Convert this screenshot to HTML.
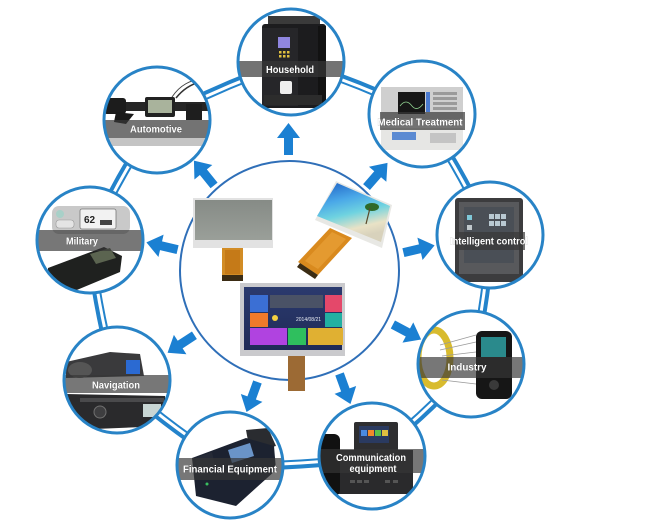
<!DOCTYPE html>
<html><head><meta charset="utf-8">
<style>
html,body{margin:0;padding:0;background:#fff;}
svg{display:block;}
.lbl{font-family:"Liberation Sans",Arial,sans-serif;font-size:10.5px;font-weight:bold;fill:#fff;stroke:rgba(0,0,0,0.3);stroke-width:0.5px;paint-order:stroke;text-anchor:middle;}
</style></head>
<body>
<svg width="650" height="529" viewBox="0 0 650 529" xmlns="http://www.w3.org/2000/svg">
<defs>
<clipPath id="cH"><circle cx="291" cy="62" r="52"/></clipPath>
<clipPath id="cMed"><circle cx="422" cy="114" r="52"/></clipPath>
<clipPath id="cInt"><circle cx="490" cy="235" r="52"/></clipPath>
<clipPath id="cInd"><circle cx="471" cy="364" r="52"/></clipPath>
<clipPath id="cCom"><circle cx="372" cy="456" r="52"/></clipPath>
<clipPath id="cFin"><circle cx="230" cy="465" r="52"/></clipPath>
<clipPath id="cNav"><circle cx="117" cy="380" r="52"/></clipPath>
<clipPath id="cMil"><circle cx="90" cy="240" r="52"/></clipPath>
<clipPath id="cAut"><circle cx="157" cy="120" r="52"/></clipPath>
<linearGradient id="sky" x1="0" y1="0" x2="0.3" y2="1">
<stop offset="0" stop-color="#1d5fc4"/><stop offset="0.35" stop-color="#4aa8e8"/><stop offset="0.6" stop-color="#6fd3e0"/><stop offset="0.85" stop-color="#e9e2c6"/><stop offset="1" stop-color="#d8d2bc"/>
</linearGradient>
<linearGradient id="lcd" x1="0" y1="0" x2="0" y2="1">
<stop offset="0" stop-color="#868b86"/><stop offset="1" stop-color="#9a9f99"/>
</linearGradient>
<linearGradient id="navy" x1="0" y1="0" x2="0" y2="1">
<stop offset="0" stop-color="#2b3a6e"/><stop offset="1" stop-color="#1f2b57"/>
</linearGradient>
</defs>

<rect width="650" height="529" fill="#fff"/>

<g fill="none" stroke="#2383cb" stroke-linecap="butt">
<path d="M157,120 Q221.9,85.4 291,62" stroke-width="4" transform="translate(-1.05,-2.81)"/>
<path d="M157,120 Q221.9,85.4 291,62" stroke-width="2" transform="translate(1.05,2.81)"/>
<path d="M291,62 Q358.6,82.4 422,114" stroke-width="4" transform="translate(1.04,-2.81)"/>
<path d="M291,62 Q358.6,82.4 422,114" stroke-width="2" transform="translate(-1.04,2.81)"/>
<path d="M422,114 Q461.2,171.6 490,235" stroke-width="4" transform="translate(2.61,-1.47)"/>
<path d="M422,114 Q461.2,171.6 490,235" stroke-width="2" transform="translate(-2.61,1.47)"/>
<path d="M490,235 Q486.4,300.5 471,364" stroke-width="4" transform="translate(2.96,0.49)"/>
<path d="M490,235 Q486.4,300.5 471,364" stroke-width="2" transform="translate(-2.96,-0.49)"/>
<path d="M471,364 Q425.6,414.4 372,456" stroke-width="4" transform="translate(2.04,2.2)"/>
<path d="M471,364 Q425.6,414.4 372,456" stroke-width="2" transform="translate(-2.04,-2.2)"/>
<path d="M372,456 Q301.3,466.5 230,465" stroke-width="4" transform="translate(0.17,2.99)"/>
<path d="M372,456 Q301.3,466.5 230,465" stroke-width="2" transform="translate(-0.17,-2.99)"/>
<path d="M230,465 Q169.9,427.3 117,380" stroke-width="4" transform="translate(-1.81,2.39)"/>
<path d="M230,465 Q169.9,427.3 117,380" stroke-width="2" transform="translate(1.81,-2.39)"/>
<path d="M117,380 Q97.6,311.3 90,240" stroke-width="4" transform="translate(-2.93,0.66)"/>
<path d="M117,380 Q97.6,311.3 90,240" stroke-width="2" transform="translate(2.93,-0.66)"/>
<path d="M90,240 Q118.2,177.2 157,120" stroke-width="4" transform="translate(-2.66,-1.4)"/>
<path d="M90,240 Q118.2,177.2 157,120" stroke-width="2" transform="translate(2.66,1.4)"/>
</g>

<circle cx="289.5" cy="270.5" r="109.5" fill="#fff" stroke="#2f6fb8" stroke-width="2"/>

<g fill="#1b80d2">
<polygon points="-16,-4.5 1,-4.5 1,-11.5 16,0 1,11.5 1,4.5 -16,4.5" transform="translate(288.5,139) rotate(-90)"/>
<polygon points="-16,-4.5 1,-4.5 1,-11.5 16,0 1,11.5 1,4.5 -16,4.5" transform="translate(377,175) rotate(-49)"/>
<polygon points="-16,-4.5 1,-4.5 1,-11.5 16,0 1,11.5 1,4.5 -16,4.5" transform="translate(419,249) rotate(-13)"/>
<polygon points="-16,-4.5 1,-4.5 1,-11.5 16,0 1,11.5 1,4.5 -16,4.5" transform="translate(407,332) rotate(28)"/>
<polygon points="-16,-4.5 1,-4.5 1,-11.5 16,0 1,11.5 1,4.5 -16,4.5" transform="translate(345,389) rotate(70)"/>
<polygon points="-16,-4.5 1,-4.5 1,-11.5 16,0 1,11.5 1,4.5 -16,4.5" transform="translate(252,397) rotate(110)"/>
<polygon points="-16,-4.5 1,-4.5 1,-11.5 16,0 1,11.5 1,4.5 -16,4.5" transform="translate(181,344) rotate(147)"/>
<polygon points="-16,-4.5 1,-4.5 1,-11.5 16,0 1,11.5 1,4.5 -16,4.5" transform="translate(162,246) rotate(-167)"/>
<polygon points="-16,-4.5 1,-4.5 1,-11.5 16,0 1,11.5 1,4.5 -16,4.5" transform="translate(204,173) rotate(-129)"/>
</g>

<rect x="193" y="198" width="80" height="50" fill="#e2e2e2"/>
<rect x="195" y="200" width="77" height="40" fill="url(#lcd)"/>
<rect x="222" y="248" width="21" height="28" fill="#d28c25"/>
<rect x="225" y="250" width="15" height="24" fill="#c57a18"/>
<rect x="222" y="275" width="21" height="6" fill="#3b2c14"/>

<polygon points="336,181 392,205 382,248 315,220" fill="#e8e8e4"/>
<polygon points="337,183 390,206 381,242 317,216" fill="url(#sky)"/>
<ellipse cx="372" cy="207" rx="7" ry="4" fill="#2f6a2a"/>
<line x1="370" y1="208" x2="366" y2="224" stroke="#5a4a2a" stroke-width="1.2"/>
<polygon points="330,228 352,238 318,275 298,262" fill="#d98a1e"/>
<polygon points="332,232 346,239 318,269 305,261" fill="#e49a30"/>
<polygon points="300,263 318,275 315,279 297,267" fill="#3b2c14"/>

<rect x="240" y="283" width="105" height="73" fill="#cacacd"/>
<rect x="244" y="287" width="98" height="63" fill="url(#navy)"/>
<rect x="250" y="295" width="18" height="17" fill="#3b6fd4"/>
<rect x="270" y="295" width="53" height="13" fill="#4a5266"/>
<rect x="325" y="295" width="17" height="17" fill="#e4486a"/>
<rect x="250" y="313" width="18" height="14" fill="#f07a2a"/>
<rect x="325" y="313" width="17" height="14" fill="#22b0a2"/>
<rect x="250" y="328" width="37" height="17" fill="#b043e0"/>
<rect x="288" y="328" width="18" height="17" fill="#2fbf5e"/>
<rect x="308" y="328" width="35" height="17" fill="#e0b032"/>
<circle cx="275" cy="318" r="3" fill="#f3d040"/>
<text x="296" y="321" font-family="Liberation Sans, sans-serif" font-size="5" fill="#e8ecf4">2014/08/21</text>
<rect x="288" y="356" width="17" height="35" fill="#9c6a34"/>

<circle cx="291" cy="62" r="53" fill="#fff"/>
<g clip-path="url(#cH)">
<rect x="268" y="16" width="52" height="10" fill="#3a3a3a"/>
<rect x="262" y="24" width="64" height="84" rx="3" fill="#1c1c1e"/>
<rect x="262" y="28" width="36" height="78" fill="#262629"/>
<rect x="318" y="26" width="8" height="80" fill="#121212"/>
<rect x="278" y="37" width="12" height="11" fill="#8f86e0"/>
<rect x="279" y="51" width="2.5" height="2.5" fill="#e0c040"/><rect x="283" y="51" width="2.5" height="2.5" fill="#e0c040"/><rect x="287" y="51" width="2.5" height="2.5" fill="#e0c040"/>
<rect x="279" y="55" width="2.5" height="2.5" fill="#e0c040"/><rect x="283" y="55" width="2.5" height="2.5" fill="#e0c040"/><rect x="287" y="55" width="2.5" height="2.5" fill="#e0c040"/>
<rect x="280" y="81" width="12" height="13" rx="2" fill="#eeeeee"/>
<rect x="264" y="95" width="58" height="10" fill="#2c2c2c"/>
<rect x="230" y="61" width="122" height="16" fill="rgba(55,55,55,0.7)"/>
</g>
<circle cx="291" cy="62" r="53" fill="none" stroke="#2883c6" stroke-width="3"/>
<text class="lbl" x="290" y="73" textLength="48" lengthAdjust="spacingAndGlyphs">Household</text>

<circle cx="422" cy="114" r="53" fill="#fff"/>
<g clip-path="url(#cMed)">
<rect x="381" y="87" width="82" height="32" fill="#cfcfcf"/>
<rect x="398" y="92" width="27" height="22" fill="#161616"/>
<path d="M400,106 q6,-8 12,0 q5,6 11,-2" stroke="#8fd08f" stroke-width="0.8" fill="none"/>
<rect x="426" y="92" width="4" height="20" fill="#4a7ad0"/>
<g fill="#9a9a9a"><rect x="433" y="92" width="24" height="3"/><rect x="433" y="97" width="24" height="3"/><rect x="433" y="102" width="24" height="3"/><rect x="433" y="107" width="24" height="3"/></g>
<rect x="381" y="128" width="82" height="22" fill="#e6e6e4"/>
<rect x="392" y="132" width="24" height="8" fill="#5b8ad2"/>
<rect x="430" y="133" width="26" height="10" fill="#c4c4c4"/>
<rect x="380" y="112" width="85" height="18" fill="rgba(55,55,55,0.7)"/>
</g>
<circle cx="422" cy="114" r="53" fill="none" stroke="#2883c6" stroke-width="3"/>
<text class="lbl" x="420" y="125.5" textLength="85" lengthAdjust="spacingAndGlyphs">Medical Treatment</text>

<circle cx="490" cy="235" r="53" fill="#fff"/>
<g clip-path="url(#cInt)">
<rect x="455" y="198" width="68" height="84" rx="3" fill="#3c3c3e"/>
<rect x="459" y="202" width="60" height="72" fill="#58595c"/>
<rect x="464" y="207" width="50" height="56" fill="#4a4f56"/>
<g fill="#b9c9d2"><rect x="489" y="214" width="5" height="5"/><rect x="495" y="214" width="5" height="5"/><rect x="501" y="214" width="5" height="5"/><rect x="489" y="221" width="5" height="5"/><rect x="495" y="221" width="5" height="5"/><rect x="501" y="221" width="5" height="5"/></g>
<rect x="467" y="215" width="5" height="5" fill="#7fc8d8"/><rect x="467" y="225" width="5" height="5" fill="#c0c8cc"/>
<rect x="455" y="232" width="70" height="18" fill="rgba(55,55,55,0.7)"/>
</g>
<circle cx="490" cy="235" r="53" fill="none" stroke="#2883c6" stroke-width="3"/>
<text class="lbl" x="489" y="244.5" textLength="78" lengthAdjust="spacingAndGlyphs">Intelligent control</text>

<circle cx="471" cy="364" r="53" fill="#fff"/>
<g clip-path="url(#cInd)">
<ellipse cx="434" cy="358" rx="16" ry="28" fill="none" stroke="#d8bb2e" stroke-width="7"/>
<g stroke="#9a9a9a" stroke-width="0.8"><line x1="440" y1="345" x2="476" y2="335"/><line x1="440" y1="350" x2="476" y2="342"/><line x1="442" y1="356" x2="476" y2="352"/><line x1="442" y1="380" x2="476" y2="384"/></g>
<rect x="476" y="331" width="36" height="68" rx="6" fill="#161616"/>
<rect x="481" y="337" width="25" height="20" fill="#2a8a8c"/>
<circle cx="494" cy="385" r="5" fill="#3a3a3a"/>
<rect x="418" y="357" width="110" height="21" fill="rgba(55,55,55,0.68)"/>
</g>
<circle cx="471" cy="364" r="53" fill="none" stroke="#2883c6" stroke-width="3"/>
<text class="lbl" x="467" y="370.5" textLength="39" lengthAdjust="spacingAndGlyphs">Industry</text>

<circle cx="372" cy="456" r="53" fill="#fff"/>
<g clip-path="url(#cCom)">
<rect x="354" y="422" width="44" height="30" rx="2" fill="#2e2e30"/>
<rect x="359" y="426" width="30" height="17" fill="#2a3a60"/>
<rect x="361" y="430" width="6" height="6" fill="#4a8ae0"/><rect x="368" y="430" width="6" height="6" fill="#f08a2a"/><rect x="375" y="430" width="6" height="6" fill="#5ac04a"/><rect x="382" y="430" width="6" height="6" fill="#e0c040"/>
<rect x="327" y="450" width="86" height="44" fill="#2a2a2c"/>
<rect x="318" y="434" width="22" height="62" rx="6" fill="#111"/>
<g fill="#555"><rect x="350" y="480" width="5" height="3"/><rect x="357" y="480" width="5" height="3"/><rect x="364" y="480" width="5" height="3"/><rect x="385" y="480" width="5" height="3"/><rect x="393" y="480" width="5" height="3"/></g>
<rect x="318" y="449" width="110" height="24" fill="rgba(55,55,55,0.68)"/>
</g>
<circle cx="372" cy="456" r="53" fill="none" stroke="#2883c6" stroke-width="3"/>
<text class="lbl" x="371" y="461" textLength="70" lengthAdjust="spacingAndGlyphs">Communication</text>
<text class="lbl" x="373" y="472" textLength="47" lengthAdjust="spacingAndGlyphs">equipment</text>

<circle cx="230" cy="465" r="53" fill="#fff"/>
<g clip-path="url(#cFin)">
<polygon points="246,430 268,428 276,446 250,452" fill="#2a2c30"/>
<polygon points="192,458 246,438 274,446 276,470 236,506 196,496" fill="#1c2230"/>
<polygon points="228,450 250,443 254,456 232,463" fill="#6a94c8"/>
<polygon points="195,458 212,452 216,470 200,476" fill="#252a36"/>
<circle cx="207" cy="484" r="1.5" fill="#3ac060"/>
<rect x="176" y="458" width="110" height="22" fill="rgba(55,55,55,0.68)"/>
</g>
<circle cx="230" cy="465" r="53" fill="none" stroke="#2883c6" stroke-width="3"/>
<text class="lbl" x="230" y="472.5" textLength="94" lengthAdjust="spacingAndGlyphs">Financial Equipment</text>

<circle cx="117" cy="380" r="53" fill="#fff"/>
<g clip-path="url(#cNav)">
<polygon points="66,362 110,352 140,354 144,376 66,378" fill="#3a3a3c"/>
<rect x="126" y="360" width="14" height="14" fill="#2b6ad2"/>
<ellipse cx="80" cy="370" rx="12" ry="8" fill="#555"/>
<polygon points="66,394 165,396 168,426 70,430" fill="#2a2a2c"/>
<rect x="80" y="398" width="84" height="4" fill="#4a4a4c"/>
<circle cx="100" cy="412" r="6" fill="#3e3e40" stroke="#707070" stroke-width="1"/>
<rect x="143" y="404" width="18" height="13" fill="#c8d6d4"/>
<rect x="60" y="375" width="115" height="18" fill="rgba(55,55,55,0.68)"/>
</g>
<circle cx="117" cy="380" r="53" fill="none" stroke="#2883c6" stroke-width="3"/>
<text class="lbl" x="116" y="388.5" textLength="48" lengthAdjust="spacingAndGlyphs">Navigation</text>

<circle cx="90" cy="240" r="53" fill="#fff"/>
<g clip-path="url(#cMil)">
<rect x="52" y="206" width="78" height="28" rx="7" fill="#c9c9c9"/>
<rect x="80" y="209" width="36" height="20" rx="2" fill="#f2f2f2" stroke="#777" stroke-width="0.8"/>
<text x="84" y="223" font-family="Liberation Sans, sans-serif" font-size="10" font-weight="bold" fill="#222">62</text>
<rect x="100" y="220" width="12" height="5" fill="#444"/>
<circle cx="60" cy="214" r="4" fill="#a8d0c8"/>
<rect x="56" y="220" width="18" height="8" rx="3" fill="#e4e4e4" stroke="#999" stroke-width="0.6"/>
<polygon points="48,268 104,247 122,256 120,272 72,292 48,287" fill="#1f211f"/>
<polygon points="90,254 110,248 116,258 96,264" fill="#5b6450"/>
<rect x="36" y="230" width="110" height="21" fill="rgba(55,55,55,0.68)"/>
</g>
<circle cx="90" cy="240" r="53" fill="none" stroke="#2883c6" stroke-width="3"/>
<text class="lbl" x="82" y="244.5" textLength="32" lengthAdjust="spacingAndGlyphs">Military</text>

<circle cx="157" cy="120" r="53" fill="#fff"/>
<g clip-path="url(#cAut)">
<path d="M176,98 C184,88 192,84 200,82" stroke="#333" stroke-width="1.5" fill="none"/>
<path d="M172,97 C180,85 190,80 205,78" stroke="#444" stroke-width="1" fill="none"/>
<rect x="102" y="102" width="112" height="9" fill="#262626"/>
<rect x="104" y="98" width="22" height="16" rx="3" fill="#1c1c1c"/>
<polygon points="116,112 134,114 126,124 114,122" fill="#1a1a1a"/>
<rect x="145" y="97" width="30" height="20" rx="2" fill="#222"/>
<rect x="148" y="100" width="24" height="13" fill="#a9b39c"/>
<rect x="186" y="104" width="16" height="16" fill="#1e1e1e"/>
<rect x="100" y="138" width="115" height="8" fill="#c4c4c4"/>
<rect x="100" y="120" width="115" height="18" fill="rgba(55,55,55,0.7)"/>
</g>
<circle cx="157" cy="120" r="53" fill="none" stroke="#2883c6" stroke-width="3"/>
<text class="lbl" x="156" y="132.5" textLength="52" lengthAdjust="spacingAndGlyphs">Automotive</text>

</svg>
</body></html>
